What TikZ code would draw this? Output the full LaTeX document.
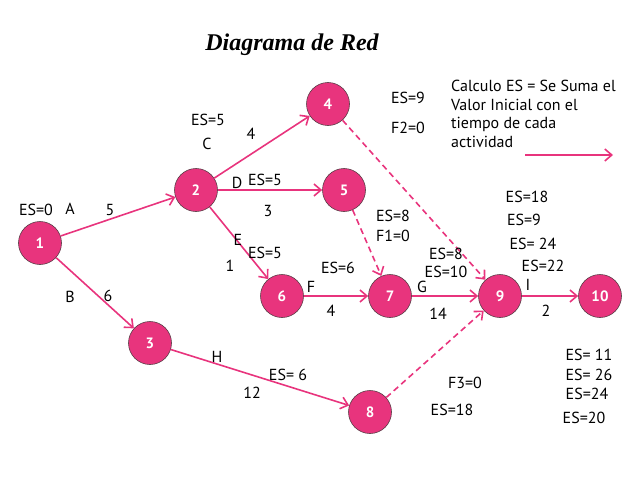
\documentclass[tikz,border=0pt]{standalone}
\usepackage{fontspec}
\setmainfont{PT Sans}
\newfontfamily\titlefont{Liberation Serif}
\usetikzlibrary{arrows.meta}
\definecolor{pk}{RGB}{232,52,125}
\definecolor{rim}{RGB}{90,60,70}
\tikzset{x=1pt,y=-1pt,
 ev/.style={circle,fill=pk,draw=rim,line width=0.6pt,minimum size=43pt,inner sep=0pt,text=white,font=\bfseries\fontsize{15}{17}\selectfont},
 act/.style={pk,line width=1.6pt,-{Straight Barb[length=7pt,width=12pt]}},
 dum/.style={act,dashed,dash pattern=on 6pt off 4pt},
 lb/.style={font=\fontsize{16}{18}\selectfont,inner sep=0pt}}
\begin{document}
\begin{tikzpicture}
\useasboundingbox (0,0) rectangle (638,479);
\node[ev] (n1) at (40,243) {1};
\node[ev] (n2) at (196,190) {2};
\node[ev] (n3) at (150,343) {3};
\node[ev] (n4) at (328,104) {4};
\node[ev] (n5) at (344,190) {5};
\node[ev] (n6) at (282,296) {6};
\node[ev] (n7) at (390,296) {7};
\node[ev] (n8) at (370,412) {8};
\node[ev] (n9) at (500,296) {9};
\node[ev] (n10) at (600,296) {10};
\draw[act] (n1) -- (n2);
\draw[act] (n1) -- (n3);
\draw[act] (n2) -- (n4);
\draw[act] (n2) -- (n5);
\draw[act] (n2) -- (n6);
\draw[act] (n6) -- (n7);
\draw[act] (n3) -- (n8);
\draw[act] (n7) -- (n9);
\draw[act] (n9) -- (n10);
\draw[dum] (n4) -- (n9);
\draw[dum] (n5) -- (n7);
\draw[dum] (n8) -- (n9);
\coordinate (a1) at (525,155); \coordinate (a2) at (613,155);
\draw[act] (a1) -- (a2);
\node[font=\titlefont\bfseries\itshape\fontsize{24}{28}\selectfont] (t) at (292,45) {Diagrama de Red};
\foreach \n/\x/\y/\t in {l1/36/210/ES=0,l2/70/209/A,l3/110/210/5,l4/70/297/B,l5/108/296/6,
 l6/208/120/ES=5,l7/207/144/C,l8/251/134/4,l9/237/183/D,l10/265/180/ES=5,l11/268/211/3,
 l12/238/240/E,l13/265/253/ES=5,l14/230/266/1,l15/338/268/ES=6,l16/311/287/F,l17/331/311/4,
 l18/217/357/H,l19/288/375/ES= 6,l20/252/393/12,l21/408/98/ES=9,l22/408/128/F2=0,
 l23/393/216/ES=8,l24/393/236/F1=0,l25/446/254/ES=8,l26/446/272/ES=10,l27/422/287/G,l28/438/314/14,
 l29/527/197/ES=18,l30/524/220/ES=9,l31/533/244/ES= 24,l32/543/266/ES=22,l33/528/285/I,l34/546/311/2,
 l35/465/383/F3=0,l36/452/410/ES=18,l37/589/355/ES= 11,l38/589/375/ES= 26,l39/587/394/ES=24,l40/584/418/ES=20}
 \node[lb] (\n) at (\x,\y) {\t};
\node[lb,anchor=north west,align=left,font=\fontsize{16}{18.5}\selectfont] (note) at (451,80)
 {Calculo ES = Se Suma el\\Valor Inicial con el\\tiempo de cada\\actividad};
\end{tikzpicture}
\end{document}
